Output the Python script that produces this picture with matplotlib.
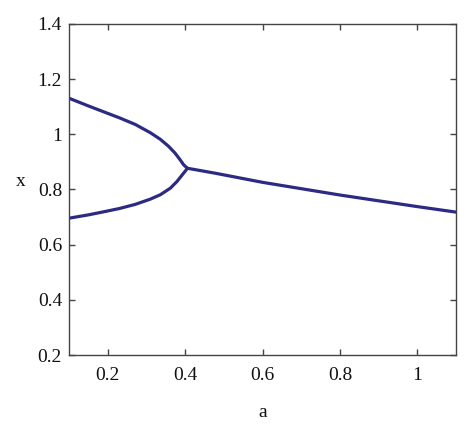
import matplotlib
matplotlib.use('Agg')
import matplotlib.pyplot as plt

plt.rcParams['font.family'] = ['Liberation Serif', 'DejaVu Serif']

# branch values
a_upper = [0.10, 0.15, 0.189, 0.23, 0.271, 0.31, 0.336, 0.357, 0.374, 0.387, 0.396, 0.406]
x_upper = [1.131, 1.103, 1.082, 1.060, 1.036, 1.006, 0.982, 0.957, 0.932, 0.908, 0.890, 0.877]
a_lower = [0.10, 0.15, 0.189, 0.23, 0.271, 0.31, 0.336, 0.362, 0.379, 0.392, 0.400, 0.406]
x_lower = [0.696, 0.708, 0.719, 0.731, 0.746, 0.765, 0.781, 0.805, 0.829, 0.852, 0.866, 0.877]
a_single = [0.406, 0.478, 0.60, 0.80, 1.00, 1.10]
x_single = [0.877, 0.859, 0.826, 0.780, 0.738, 0.718]

line_color = '#2c2a82'

fig = plt.figure(figsize=(4.74, 4.32), dpi=100)
ax = fig.add_axes([69/474, 1 - 355/432, (456-69)/474, (355-24)/432])

for a_vals, x_vals in [(a_upper, x_upper), (a_lower, x_lower), (a_single, x_single)]:
    ax.plot(a_vals, x_vals, color=line_color, lw=2.3,
            solid_capstyle='round', solid_joinstyle='round')

ax.set_xlim(0.1, 1.1)
ax.set_ylim(0.2, 1.4)
ax.set_xticks([0.2, 0.4, 0.6, 0.8, 1.0])
ax.set_xticklabels(['0.2', '0.4', '0.6', '0.8', '1'])
ax.set_yticks([0.2, 0.4, 0.6, 0.8, 1.0, 1.2, 1.4])
ax.set_yticklabels(['0.2', '0.4', '0.6', '0.8', '1', '1.2', '1.4'])

ax.tick_params(direction='in', top=True, right=True, length=4, width=1,
               color='#444444', labelsize=14, labelcolor='#111111')
ax.tick_params(axis='x', pad=9)
ax.tick_params(axis='y', pad=5)
for s in ax.spines.values():
    s.set_color('#444444')
    s.set_linewidth(1.0)

ax.set_xlabel('a', fontsize=14, labelpad=14, color='#111111')
ax.set_ylabel('x', fontsize=14, rotation=0, labelpad=12, color='#111111')
ax.yaxis.set_label_coords(-0.125, 0.5)

plt.savefig('out.png', dpi=100)
